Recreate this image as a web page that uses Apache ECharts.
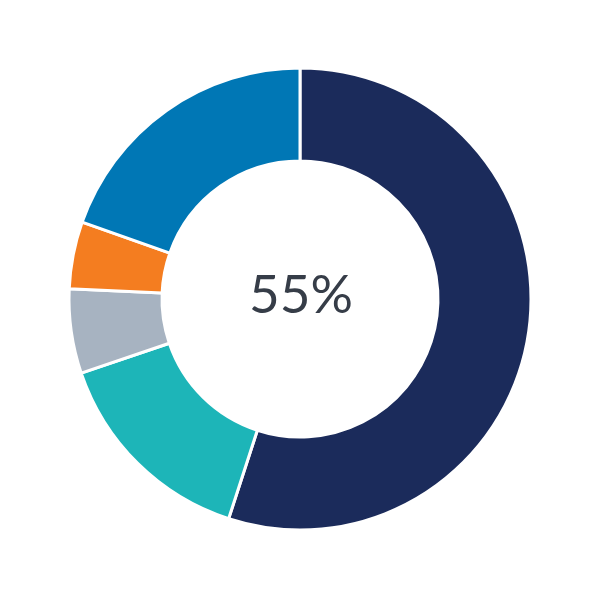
<!DOCTYPE html>
<html>
<head>
<meta charset="utf-8">
<script src="https://cdn.jsdelivr.net/npm/echarts@6/dist/echarts.min.js"></script>
<style>
  html, body { margin: 0; padding: 0; background: #fff; }
  #chart { width: 600px; height: 599px; }
</style>
</head>
<body>
<div id="chart"></div>
<script>
// 数据
var names = ['A', 'B', 'C', 'D', 'E'];
var values = [55, 14.8, 5.9, 4.7, 19.6];
var colors = ['#1b2b5b', '#1db5b8', '#a7b3c1', '#f47d20', '#0077b5'];
var centerLabel = '55%';

var myChart = echarts.init(document.getElementById('chart'));
var seriesData = [];
for (var i = 0; i < names.length; i++) {
    seriesData.push({name: names[i], value: values[i], itemStyle: {color: colors[i]}});
}
var option = {
    animation: false,
    title: {
        text: centerLabel,
        left: 296,
        top: 291,
        textAlign: 'center',
        textVerticalAlign: 'middle',
        textStyle: {
            fontFamily: 'Lato',
            fontSize: 53,
            fontWeight: 'normal',
            color: '#363d48'
        }
    },
    series: [
        {
            type: 'pie',
            center: [300, 299],
            radius: [138, 231],
            startAngle: 90,
            clockwise: true,
            label: {show: false},
            labelLine: {show: false},
            itemStyle: {borderColor: '#fff', borderWidth: 3},
            emphasis: {disabled: true},
            data: seriesData
        }
    ]
};
myChart.setOption(option);
</script>
</body>
</html>
